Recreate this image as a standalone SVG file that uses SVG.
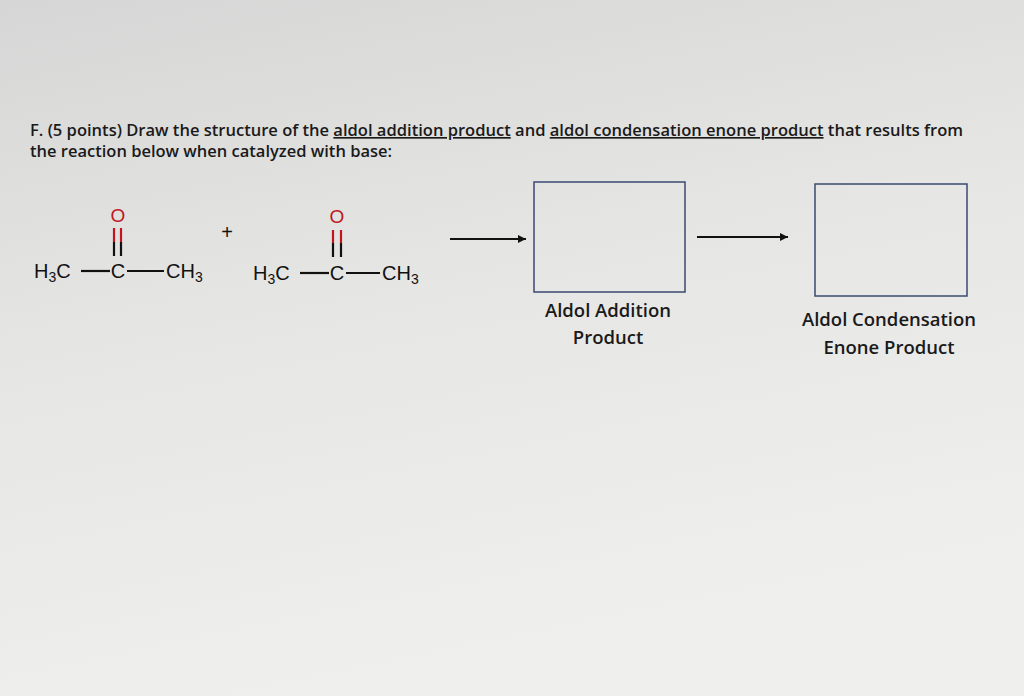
<svg xmlns="http://www.w3.org/2000/svg" width="1024" height="696" viewBox="0 0 1024 696">
<defs>
<linearGradient id="bg" x1="0" y1="0" x2="0.3" y2="1"><stop offset="0" stop-color="#d6d6d6"/><stop offset="0.5" stop-color="#e6e6e4"/><stop offset="1" stop-color="#efefed"/></linearGradient>
<marker id="ah" viewBox="0 0 10 10" refX="10" refY="5" markerWidth="10" markerHeight="8" orient="auto" markerUnits="userSpaceOnUse"><path d="M0,0L10,5L0,10z" fill="#111"/></marker>
<style>
.t{font-family:"Open Sans","Liberation Sans",sans-serif;font-size:16.5px;font-weight:600;fill:#1a1a1a}
.l{font-family:"Open Sans","Liberation Sans",sans-serif;font-size:18.5px;font-weight:600;fill:#1a1a1a}
.c{font-family:"Liberation Sans",Arial,sans-serif;font-size:20px;fill:#111}
.o{font-family:"Liberation Sans",Arial,sans-serif;font-size:19px;fill:#c0161d}
.s{font-size:14px}
.b{stroke:#111;stroke-width:2.2}
.r{stroke:#c0161d;stroke-width:2.2}
.box{fill:none;stroke:#3a4a70;stroke-width:1.5}
</style>
</defs>
<rect width="1024" height="696" fill="url(#bg)"/>
<g id="title">
<text class="t" x="30" y="136" textLength="933" lengthAdjust="spacingAndGlyphs">F. (5 points) Draw the structure of the <tspan text-decoration="underline">aldol addition product</tspan> and <tspan text-decoration="underline">aldol condensation enone product</tspan> that results from</text>
<text class="t" x="30" y="157">the reaction below when catalyzed with base:</text>
</g>
<g id="acetone1">
<text class="o" x="118" y="222" text-anchor="middle">O</text>
<line class="r" x1="114" y1="228" x2="114" y2="242"/><line class="b" x1="114" y1="242" x2="114" y2="256"/>
<line class="r" x1="121" y1="228" x2="121" y2="242"/><line class="b" x1="121" y1="242" x2="121" y2="256"/>
<text class="c" x="34" y="278">H<tspan class="s" dy="4">3</tspan><tspan dy="-4">C</tspan></text>
<line class="b" x1="81" y1="271" x2="110" y2="271"/>
<text class="c" x="118" y="278" text-anchor="middle">C</text>
<line class="b" x1="127" y1="271" x2="164" y2="271"/>
<text class="c" x="166" y="278">CH<tspan class="s" dy="4">3</tspan></text>
</g>
<g id="plus"><text class="c" x="227" y="239" text-anchor="middle">+</text></g>
<g id="acetone2">
<text class="o" x="337" y="223" text-anchor="middle">O</text>
<line class="r" x1="333" y1="230" x2="333" y2="243"/><line class="b" x1="333" y1="243" x2="333" y2="257"/>
<line class="r" x1="341" y1="230" x2="341" y2="243"/><line class="b" x1="341" y1="243" x2="341" y2="257"/>
<text class="c" x="253" y="280">H<tspan class="s" dy="4">3</tspan><tspan dy="-4">C</tspan></text>
<line class="b" x1="300" y1="273" x2="329" y2="273"/>
<text class="c" x="337" y="280" text-anchor="middle">C</text>
<line class="b" x1="346" y1="273" x2="380" y2="273"/>
<text class="c" x="382" y="280">CH<tspan class="s" dy="4">3</tspan></text>
</g>
<g id="connectors">
<line x1="450" y1="239" x2="526" y2="239" stroke="#111" stroke-width="1.8" marker-end="url(#ah)"/>
<line x1="697" y1="237" x2="788" y2="237" stroke="#111" stroke-width="1.8" marker-end="url(#ah)"/>
</g>
<g id="box1">
<rect class="box" x="534" y="182" width="151" height="110"/>
<text class="l" x="608" y="317" text-anchor="middle">Aldol Addition</text>
<text class="l" x="608" y="344" text-anchor="middle">Product</text>
</g>
<g id="box2">
<rect class="box" x="815" y="184" width="152" height="112"/>
<text class="l" x="889" y="326" text-anchor="middle">Aldol Condensation</text>
<text class="l" x="889" y="354" text-anchor="middle">Enone Product</text>
</g>
</svg>
